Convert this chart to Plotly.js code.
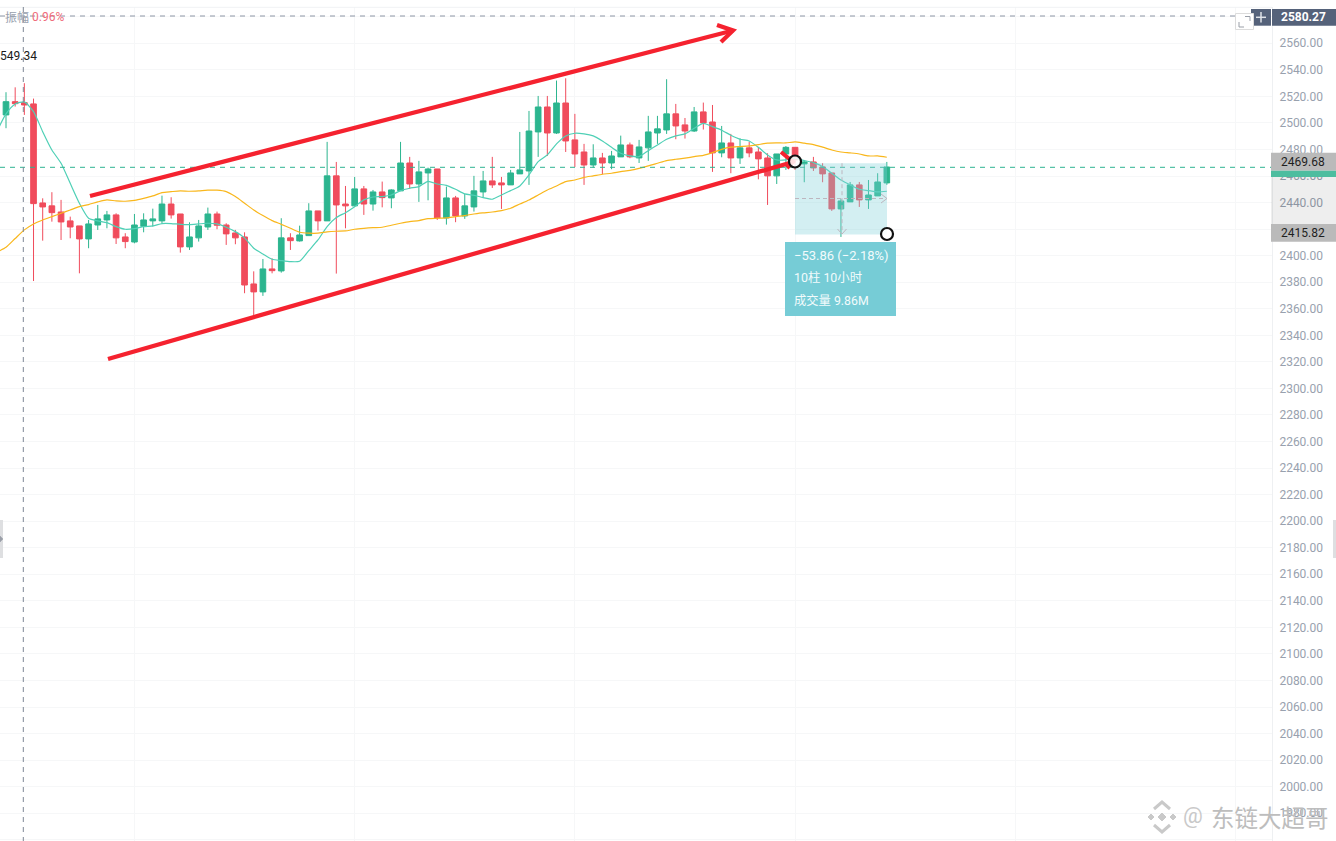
<!DOCTYPE html>
<html><head><meta charset="utf-8">
<script src="https://cdn.plot.ly/plotly-3.0.1.min.js"></script>
<style>html,body{margin:0;padding:0;background:#fff;overflow:hidden}#c{width:1336px;height:841px}</style>
</head><body><div id="c"></div>
<script>
const open_ = [2506.0,2516.0,2515.3,2514.3,2439.7,2437.5,2432.9,2426.2,2422.4,2412.6,2423.1,2426.9,2430.7,2414.1,2410.3,2422.1,2426.2,2426.2,2438.9,2431.4,2406.6,2413.4,2421.6,2431.4,2423.1,2417.1,2414.1,2378.7,2372.7,2390.0,2388.5,2413.4,2411.1,2415.1,2433.7,2426.2,2460.1,2438.9,2437.5,2450.3,2438.9,2448.0,2443.5,2448.8,2469.8,2454.0,2462.3,2465.3,2428.4,2443.5,2429.9,2436.7,2448.0,2456.3,2454.8,2453.3,2461.6,2463.8,2493.2,2512.0,2492.4,2515.0,2487.2,2478.1,2468.3,2473.6,2469.8,2474.4,2483.4,2473.6,2481.2,2492.4,2494.7,2506.8,2498.5,2493.9,2508.3,2500.7,2477.4,2484.9,2473.6,2481.2,2478.1,2473.6,2460.1,2476.6,2481.6,2469.1,2470.6,2466.8,2462.3,2435.2,2440.5,2453.3,2442.0,2445.0,2454.8];
const high = [2523.1,2526.8,2529.9,2518.3,2443.2,2447.8,2442.0,2429.4,2422.4,2426.9,2438.2,2433.7,2431.9,2416.9,2431.4,2431.9,2435.4,2445.2,2444.0,2431.4,2425.1,2426.9,2436.2,2433.2,2424.4,2419.4,2417.6,2388.2,2397.5,2398.0,2428.2,2416.9,2422.6,2439.5,2433.7,2485.7,2470.6,2452.5,2459.3,2452.5,2449.5,2455.8,2450.0,2485.7,2474.4,2471.4,2466.3,2465.3,2452.0,2445.0,2446.5,2460.1,2463.8,2474.4,2459.3,2464.6,2493.2,2509.0,2520.3,2520.3,2531.9,2533.6,2506.8,2484.2,2483.9,2477.4,2478.9,2490.4,2485.2,2487.2,2505.3,2505.3,2532.9,2514.3,2503.7,2512.0,2515.3,2513.5,2497.7,2491.7,2488.4,2485.7,2481.6,2477.1,2476.6,2482.6,2481.6,2472.1,2474.4,2469.6,2462.3,2442.7,2455.5,2455.5,2457.0,2462.1,2470.6];
const low = [2496.0,2512.3,2506.0,2380.9,2411.3,2425.6,2411.8,2413.1,2386.7,2405.6,2419.4,2420.6,2408.8,2405.6,2409.3,2417.6,2421.9,2424.4,2427.9,2402.3,2404.3,2410.6,2419.4,2419.9,2408.1,2408.6,2371.7,2355.3,2369.7,2386.7,2387.2,2404.3,2410.6,2415.1,2418.9,2426.2,2386.5,2420.6,2436.9,2430.7,2433.9,2436.4,2435.7,2448.8,2450.3,2440.5,2441.7,2426.9,2423.4,2425.2,2427.7,2433.2,2444.0,2451.0,2435.2,2453.3,2461.6,2453.3,2474.4,2475.1,2491.7,2478.1,2466.8,2453.3,2466.3,2461.3,2465.1,2474.4,2473.4,2469.8,2471.4,2484.2,2491.7,2487.7,2488.2,2493.2,2495.0,2463.1,2474.1,2462.1,2469.1,2474.1,2457.5,2438.2,2454.0,2464.6,2464.6,2455.3,2463.8,2455.3,2433.7,2414.1,2440.5,2436.7,2435.2,2445.0,2453.3];
const close_ = [2516.0,2514.5,2513.5,2439.2,2436.7,2432.4,2425.4,2421.6,2412.6,2423.9,2427.7,2430.7,2413.4,2410.6,2423.1,2426.9,2427.7,2438.9,2430.7,2406.6,2414.1,2422.4,2431.4,2422.9,2416.4,2413.4,2377.9,2372.7,2390.0,2388.7,2413.4,2411.3,2415.6,2433.7,2426.2,2460.1,2438.2,2437.5,2450.3,2438.9,2448.0,2443.7,2449.5,2469.8,2454.0,2463.1,2465.3,2428.4,2443.5,2429.9,2437.5,2448.8,2456.3,2453.3,2453.3,2462.3,2464.6,2493.9,2512.0,2492.4,2515.0,2486.4,2476.6,2468.3,2473.6,2469.8,2475.1,2483.4,2474.4,2481.9,2493.2,2495.5,2506.8,2497.7,2493.9,2508.3,2500.0,2477.4,2484.9,2473.6,2481.2,2477.4,2472.9,2460.1,2476.6,2481.6,2472.1,2470.6,2466.1,2461.6,2435.2,2441.2,2453.3,2442.0,2445.7,2455.5,2466.8];
const maFast = [2493.4,2506.8,2514.3,2515.8,2508.5,2493.4,2479.6,2469.6,2454.5,2439.5,2428.2,2426.2,2424.9,2421.9,2419.9,2420.4,2421.9,2422.4,2424.2,2424.2,2423.6,2423.4,2423.9,2424.4,2423.9,2421.4,2418.1,2413.4,2405.6,2401.3,2397.3,2396.3,2395.5,2395.8,2403.8,2411.8,2421.9,2428.7,2432.4,2436.9,2442.0,2444.2,2444.5,2445.7,2449.0,2450.8,2452.0,2456.0,2454.0,2453.0,2450.0,2446.5,2445.5,2443.7,2442.5,2445.7,2449.0,2452.5,2460.8,2470.8,2475.9,2484.2,2490.2,2492.2,2491.7,2490.2,2486.4,2481.6,2477.1,2475.1,2474.6,2479.1,2483.4,2487.7,2490.2,2491.7,2496.0,2499.7,2497.2,2494.5,2490.7,2487.7,2486.4,2481.6,2475.9,2472.1,2472.1,2473.4,2471.6,2470.1,2467.1,2462.1,2457.0,2453.3,2450.0,2449.0,2448.0,2448.5];
const maSlow = [2402.6,2406.3,2412.9,2419.4,2423.9,2426.9,2429.4,2431.9,2434.4,2436.9,2438.5,2440.5,2442.0,2441.2,2441.0,2441.7,2443.2,2445.0,2447.5,2448.2,2448.8,2448.5,2448.8,2449.3,2449.3,2448.2,2444.5,2439.5,2434.4,2430.2,2426.4,2423.6,2420.6,2417.6,2416.9,2416.9,2417.9,2418.4,2418.6,2419.9,2420.6,2421.1,2421.4,2422.9,2424.4,2425.7,2426.4,2427.9,2428.2,2428.4,2429.4,2430.2,2431.4,2432.2,2432.9,2433.9,2435.7,2438.9,2441.9,2445.7,2449.5,2452.5,2455.8,2457.0,2459.0,2460.1,2461.3,2462.1,2463.3,2464.3,2465.8,2467.6,2469.6,2471.6,2472.6,2473.4,2474.6,2475.6,2477.6,2480.1,2481.7,2482.2,2482.7,2483.7,2484.7,2484.9,2484.9,2485.7,2484.7,2483.7,2481.7,2479.6,2478.1,2477.4,2476.6,2475.1,2475.1,2474.1];
const candleIndex = open_.map((_, i) => i);
const maIndex = maFast.map((_, i) => i - 1);
const gridIndex = [14, 38, 62, 86, 110, 134];
const priceTop = 2580.27, priceFrom = 2469.68, priceTo = 2415.82;

const W = 1272, H = 841, TOP = 7;
const px = x => x / W;
const py = y => 1 - (y - TOP) / (H - TOP);
const GREEN = '#2cb58f', RED = '#f04c5c', LINE = '#f5222f';

function seg(x0, y0, x1, y1, color, width, dash) {
  return {type:'line', xref:'paper', yref:'paper', x0:px(x0), y0:py(y0), x1:px(x1), y1:py(y1),
          line:{color:color, width:width, dash:dash||'solid'}, layer:'above'};
}
function box(x0, y0, x1, y1, fill, line) {
  return {type:'rect', xref:'paper', yref:'paper', x0:px(x0), y0:py(y0), x1:px(x1), y1:py(y1),
          fillcolor:fill, line:line||{width:0}, layer:'above'};
}
function ring(cx, cy, r) {
  return {type:'circle', xref:'paper', yref:'paper', x0:px(cx-r), y0:py(cy+r), x1:px(cx+r), y1:py(cy-r),
          fillcolor:'rgba(255,255,255,0.85)', line:{color:'#111', width:2.2}, layer:'above'};
}
function poly(points, color, width, fill) {
  const p = points.map((q, i) => (i ? 'L' : 'M') + px(q[0]) + ',' + py(q[1])).join(' ');
  return {type:'path', xref:'paper', yref:'paper', path:p + (fill ? ' Z' : ''),
          line:{color:color, width:width}, fillcolor:fill||'rgba(0,0,0,0)', layer:'above'};
}
function label(x, y, text, color, size, anchor, family, weight) {
  return {xref:'paper', yref:'paper', x:px(x), y:py(y), text:text, showarrow:false, xanchor:anchor||'left', yanchor:'middle',
          font:{color:color, size:size, weight:weight||'normal', family:family||'Roboto, "Noto Sans CJK SC", sans-serif'}, borderpad:0, borderwidth:0};
}
const diamond = (cx, cy, r) => [[cx, cy-r],[cx+r, cy],[cx, cy+r],[cx-r, cy]];
const WM = '#c9c9c9';

const shapes = [
  seg(0, 7.3, 1272, 7.3, '#f1f2f4', 1),
  seg(0, 16, 1250, 16, '#8c95a4', 1, '5px,5px'),
  seg(0, 167.3, 1272, 167.3, '#2fb391', 1, '5px,5px'),
  seg(23.3, 7, 23.3, 841, '#7d8694', 1, '5px,5px'),
  // measuring box
  box(795, 163.2, 887, 234.6, 'rgba(125,208,218,0.34)'),
  seg(795, 198.5, 885, 198.5, '#bdb6bf', 1, '4px,3px'),
  seg(842, 163.2, 842, 232, '#bdb6bf', 1, '4px,3px'),
  poly([[881,194],[887,198.5],[881,203]], '#bdb6bf', 1),
  poly([[837.5,229],[842,234],[846.5,229]], '#bdb6bf', 1),
  // trend lines
  seg(90, 196, 733, 30.5, LINE, 4.3),
  poly([[717,25],[733,30.5],[721,42]], LINE, 4.3),
  seg(108, 359, 793, 162, LINE, 4.3),
  poly([[781,152],[793,162],[787,168]], LINE, 4),
  ring(795, 161.5, 6),
  ring(887, 234, 6),
  // measuring tooltip
  box(785, 242, 896, 316, '#76ccd6'),
  // right axis badges
  box(1271, 163, 1336, 235, 'rgba(0,0,0,0.065)'),
  box(1271, 170.5, 1336, 177, '#4dbd9f'),
  box(1271, 152.7, 1336, 170.5, '#bababa'),
  box(1271, 224, 1336, 241.7, '#bababa'),
  box(1251, 9, 1271, 25.7, '#55627a'),
  box(1272, 9, 1336, 25.7, '#55627a'),
  seg(1256, 17.3, 1266, 17.3, '#dfe3e8', 1.5),
  seg(1261, 12, 1261, 22.6, '#dfe3e8', 1.5),
  box(1235.5, 13.5, 1253.5, 29.5, '#ffffff', {color:'#dcdcdc', width:1}),
  poly([[1239,22],[1239,27],[1244,27]], '#9a9fa8', 1),
  poly([[1245,16.5],[1250,16.5],[1250,21]], '#9a9fa8', 1),
  // side tabs
  box(0, 520, 3, 558, '#dedfe1'),
  box(1333, 520, 1336, 558, '#dedfe1'),
  poly([[0,536],[3,539],[0,542]], '#9a9fa8', 0.5, '#9a9fa8'),
  // watermark logo
  poly(diamond(1162, 817, 4), WM, 1, WM),
  poly(diamond(1151, 817, 3), WM, 1, WM),
  poly(diamond(1173, 817, 3), WM, 1, WM),
  poly([[1154,809],[1162,802],[1170,809]], WM, 3),
  poly([[1154,825],[1162,832],[1170,825]], WM, 3)
];

const annotations = [
  label(5, 17, '振幅', '#98a1ae', 12),
  label(32, 17, '0.96%', '#ef6b7b', 12),
  label(37, 56, '549.34', '#1a1a1a', 12, 'right'),
  label(794, 255.5, '−53.86 (−2.18%)', '#f2fbfc', 13),
  label(794, 277.5, '10柱 10小时', '#f2fbfc', 12.4),
  label(794, 300, '成交量 9.86M', '#f2fbfc', 12.3),
  label(1281, 17.3, priceTop.toFixed(2), '#ffffff', 12, 'left', null, 'bold'),
  label(1281, 162.5, priceFrom.toFixed(2), '#1f1f1f', 12),
  label(1281, 233.5, priceTo.toFixed(2), '#1f1f1f', 12),
  label(1183, 815, '@', WM, 22),
  label(1211, 817, '东链大超哥', '#bdbdbd', 23.5, 'left', '"Noto Sans CJK SC", sans-serif')
];

const data = [
  {type:'candlestick', x:candleIndex, open:open_, high:high, low:low, close:close_,
   increasing:{line:{color:GREEN, width:1}, fillcolor:GREEN},
   decreasing:{line:{color:RED, width:1}, fillcolor:RED},
   whiskerwidth:0, hoverinfo:'skip', showlegend:false},
  {type:'scatter', mode:'lines', x:maIndex, y:maFast, line:{color:'#4fd0b6', width:1.2, shape:'spline', smoothing:0.6}, hoverinfo:'skip', showlegend:false},
  {type:'scatter', mode:'lines', x:maIndex, y:maSlow, line:{color:'#f9b71c', width:1.2, shape:'spline', smoothing:0.6}, hoverinfo:'skip', showlegend:false}
];

const layout = {
  width:1336, height:841, margin:{l:0, r:64, t:7, b:0, pad:0},
  paper_bgcolor:'#ffffff', plot_bgcolor:'#ffffff', showlegend:false, boxgap:0.12,
  font:{family:'Roboto, sans-serif'},
  xaxis:{type:'linear', range:[-0.654, 137.98], tickmode:'array', tickvals:gridIndex, showticklabels:false,
         ticks:'', showgrid:true, gridcolor:'#f6f7f8', gridwidth:1, zeroline:false, showline:false,
         rangeslider:{visible:false}, fixedrange:true},
  yaxis:{side:'right', range:[1959.1, 2587.3], dtick:20, tick0:2000, tickformat:'.2f', ticks:'', ticklen:0,
         ticklabelstandoff:4, tickfont:{color:'#98a1ae', size:12, family:'Roboto, sans-serif'},
         showgrid:true, gridcolor:'#f6f7f8', gridwidth:1, zeroline:false, showline:true, linecolor:'#eef0f2',
         linewidth:1, fixedrange:true},
  shapes:shapes, annotations:annotations
};
Plotly.newPlot('c', data, layout, {displayModeBar:false, staticPlot:true});
</script></body></html>
